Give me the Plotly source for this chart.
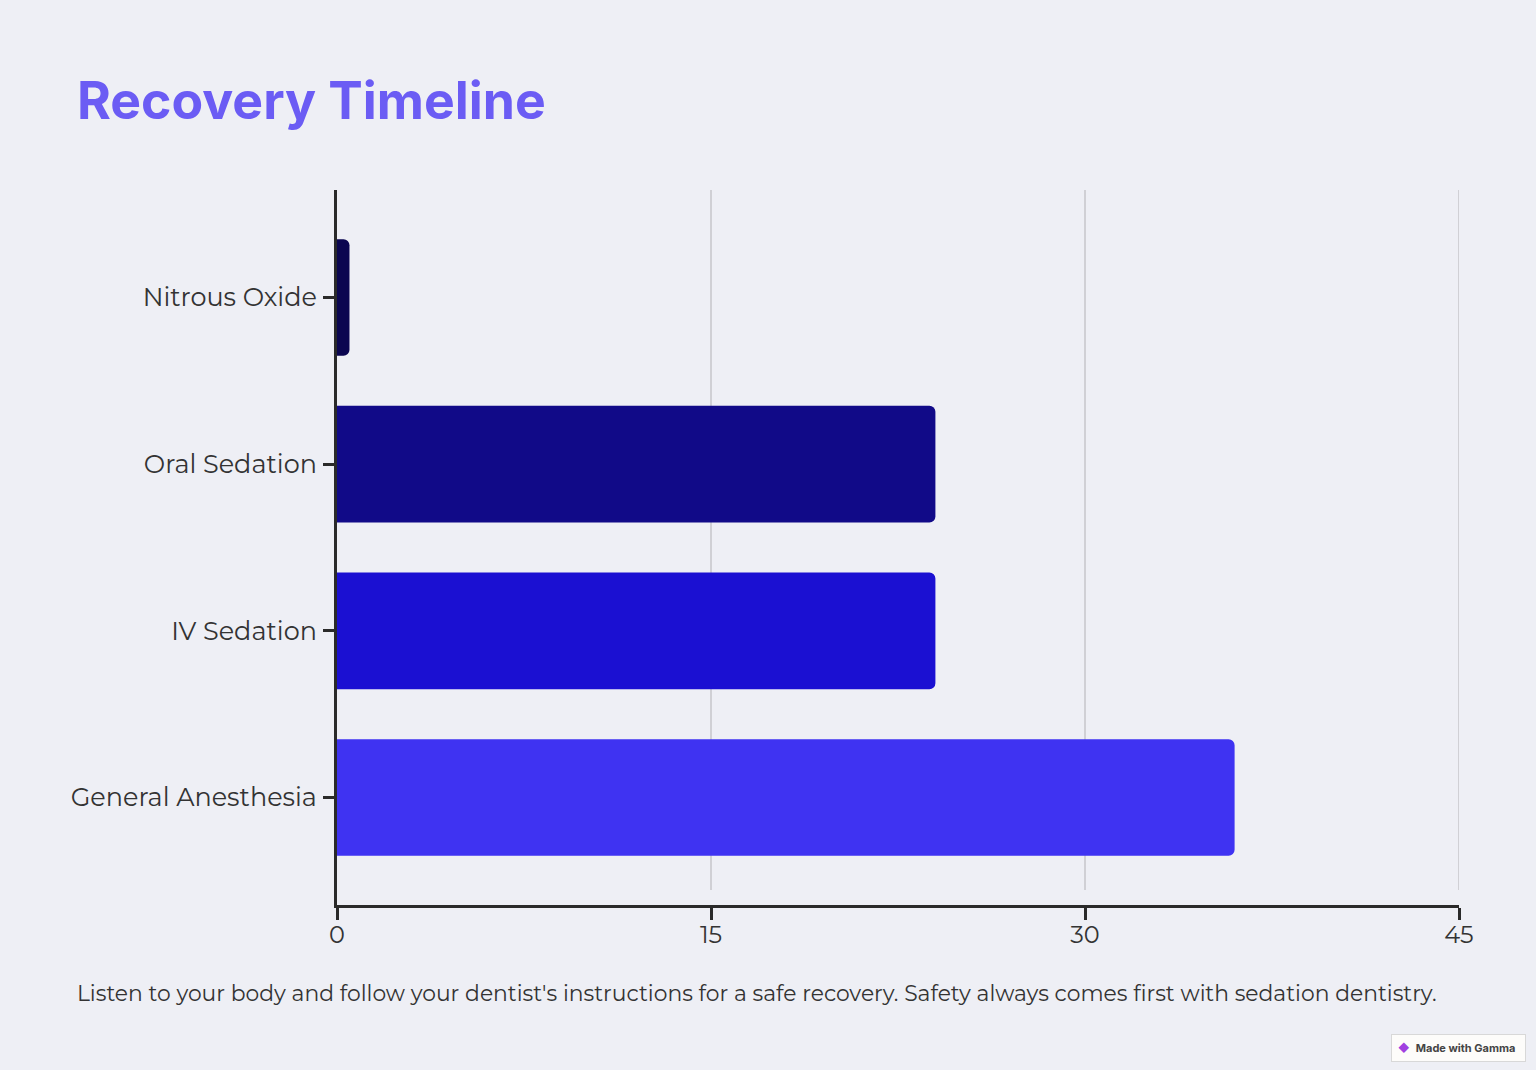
import plotly.graph_objects as go

categories = ["Nitrous Oxide", "Oral Sedation", "IV Sedation", "General Anesthesia"]
values = [0.5, 24, 24, 36]
bar_colors = ["#0b0650", "#110a88", "#1b10d2", "#3f33f2"]
x_ticks = [0, 15, 30, 45]

title_text = "Recovery Timeline"
footer_text = ("Listen to your body and follow your dentist's instructions for a safe recovery. "
               "Safety always comes first with sedation dentistry.")

FONT = "Montserrat, 'Open Sans', sans-serif"
L, R, T, B = 337, 77, 190, 165
PW = 1536 - L - R
PH = 1070 - T - B

fig = go.Figure()
fig.add_trace(go.Bar(
    x=values, y=categories, orientation="h",
    marker=dict(color=bar_colors, cornerradius=6, line=dict(width=0)),
    width=0.7, hoverinfo="x+y",
))

# vertical gridlines (stop a little above the x axis line, as in the reference)
for t in x_ticks[1:]:
    fig.add_shape(type="line", xref="x", yref="paper", x0=t, x1=t,
                  y0=(905 - 890) / PH, y1=1, line=dict(color="#c6c6ca", width=1.5),
                  layer="below")

fig.update_layout(
    width=1536, height=1070,
    paper_bgcolor="#eeeff5", plot_bgcolor="#eeeff5",
    margin=dict(l=L, r=R, t=T, b=B),
    showlegend=False,
    font=dict(family=FONT, color="#2a2a2a"),
    xaxis=dict(
        range=[0, 45], tickvals=x_ticks, ticktext=[str(t) for t in x_ticks],
        showgrid=False, zeroline=False,
        showline=True, linecolor="#2a2a2a", linewidth=3,
        ticks="outside", ticklen=12, tickwidth=3, tickcolor="#2a2a2a",
        tickfont=dict(size=24, color="#333333", family=FONT),
        ticklabelstandoff=-6,
        fixedrange=True,
    ),
    yaxis=dict(
        categoryorder="array", categoryarray=categories,
        range=[3.645, -0.645],
        showgrid=False, zeroline=False,
        showline=True, linecolor="#2a2a2a", linewidth=3,
        ticks="outside", ticklen=11, tickwidth=3, tickcolor="#2a2a2a",
        tickfont=dict(size=25.5, color="#333333", family=FONT),
        ticklabelstandoff=1,
        fixedrange=True,
    ),
)

fig.add_annotation(
    text="<b>" + title_text + "</b>", xref="paper", yref="paper",
    x=-(L - 75) / PW, y=1 + (T - 100) / PH,
    xanchor="left", yanchor="middle", showarrow=False,
    font=dict(size=51.7, color="#6b5cf4", family="Inter, Roboto, sans-serif"),
)

fig.add_annotation(
    text=footer_text, xref="paper", yref="paper",
    x=-(L - 75) / PW, y=-(993 - 905) / PH,
    xanchor="left", yanchor="middle", showarrow=False,
    font=dict(size=21.85, color="#333333", family=FONT),
)

fig.add_annotation(
    text="<span style='color:#a040e0'>◆</span>  <b>Made with Gamma</b> ",
    xref="paper", yref="paper",
    x=(1526 - L) / PW, y=-(1048 - 905) / PH,
    xanchor="right", yanchor="middle", showarrow=False,
    font=dict(size=11, color="#444444", family="Inter, Roboto, sans-serif"),
    bgcolor="#fdfcfa", bordercolor="#d8d8d8", borderwidth=1, borderpad=6,
)

fig.write_html("out.html")
